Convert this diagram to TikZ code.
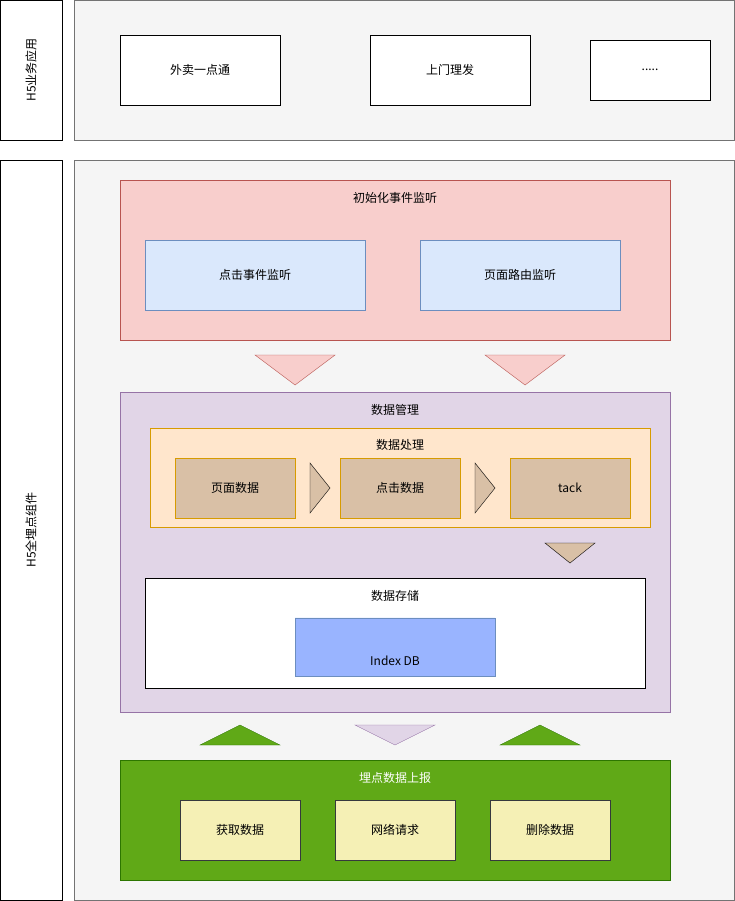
\documentclass[tikz,border=0pt]{standalone}
\usepackage{fontspec}
\setmainfont{Noto Sans CJK SC}
\usetikzlibrary{shapes.geometric}
\definecolor{cont}{HTML}{F5F5F5}
\definecolor{rf}{HTML}{F8CECC}\definecolor{rs}{HTML}{B85450}
\definecolor{bf}{HTML}{DAE8FC}\definecolor{bs}{HTML}{6C8EBF}
\definecolor{pf}{HTML}{E1D5E7}\definecolor{ps}{HTML}{9673A6}
\definecolor{of}{HTML}{FFE6CC}\definecolor{os}{HTML}{D79B00}
\definecolor{tf}{HTML}{D9C0A6}
\definecolor{gf}{HTML}{60A917}\definecolor{gs}{HTML}{2D7600}
\definecolor{yf}{HTML}{F5F0B5}\definecolor{ys}{HTML}{36393D}
\definecolor{cyl}{HTML}{99B4FF}
\tikzset{box/.style={draw,font=\fontsize{12}{14}\selectfont,inner sep=0},
  lbl/.style={font=\fontsize{12}{14}\selectfont}}
\begin{document}
\begin{tikzpicture}[x=1pt,y=-1pt]
\useasboundingbox (0,0) rectangle (735,901);
% top
\draw[draw=black,fill=white] (0.5,0.5) rectangle (62,140);
\node[lbl,rotate=90] (l1) at (31,70) {H5业务应用};
\draw[draw=gray!90!black,fill=cont] (74,0.5) rectangle (734.5,140);
\node[box,fill=white,minimum width=160,minimum height=70] (a1) at (200,70) {外卖一点通};
\node[box,fill=white,minimum width=160,minimum height=70] (a2) at (450,70) {上门理发};
\node[box,fill=white,minimum width=120,minimum height=60] (a3) at (650,70) {.....};
% bottom
\draw[draw=black,fill=white] (0.5,160) rectangle (62,900);
\node[lbl,rotate=90] (l2) at (31,530) {H5全埋点组件};
\draw[draw=gray!90!black,fill=cont] (74,160) rectangle (734.5,900);
% init
\draw[draw=rs,fill=rf] (120,180) rectangle (670,340);
\node[lbl] (t1) at (395,198) {初始化事件监听};
\node[box,draw=bs,fill=bf,minimum width=220,minimum height=70] (b1) at (255,275) {点击事件监听};
\node[box,draw=bs,fill=bf,minimum width=200,minimum height=70] (b2) at (520,275) {页面路由监听};
\draw[draw=rs,fill=rf] (255,355) -- (335,355) -- (295,385) -- cycle;
\draw[draw=rs,fill=rf] (485,355) -- (565,355) -- (525,385) -- cycle;
% manage
\draw[draw=ps,fill=pf] (120,392) rectangle (670,712);
\node[lbl] (t2) at (395,410) {数据管理};
\draw[draw=os,fill=of] (150,428) rectangle (650,527);
\node[lbl] (t3) at (400,445) {数据处理};
\node[box,draw=os,fill=tf,minimum width=120,minimum height=60] (c1) at (235,488) {页面数据};
\node[box,draw=os,fill=tf,minimum width=120,minimum height=60] (c2) at (400,488) {点击数据};
\node[box,draw=os,fill=tf,minimum width=120,minimum height=60] (c3) at (570,488) {tack};
\draw[fill=tf] (310,463) -- (330,488) -- (310,513) -- cycle;
\draw[fill=tf] (475,463) -- (495,488) -- (475,513) -- cycle;
\draw[fill=tf] (545,543) -- (595,543) -- (570,563) -- cycle;
\draw[fill=white] (145,578) rectangle (645,688);
\node[lbl] (t4) at (395,596) {数据存储};
\node[cylinder,shape border rotate=90,draw=bs,fill=cyl,minimum width=200,minimum height=58,aspect=2.2,inner sep=0,lbl] (db) at (395,647) {};
\node[lbl] at (395,661) {Index DB};
% triangles
\draw[draw=gs,fill=gf] (200,745) -- (280,745) -- (240,725) -- cycle;
\draw[draw=ps,fill=pf] (355,725) -- (435,725) -- (395,745) -- cycle;
\draw[draw=gs,fill=gf] (500,745) -- (580,745) -- (540,725) -- cycle;
% report
\draw[draw=gs,fill=gf] (120,760) rectangle (670,880);
\node[lbl,text=white] (t5) at (395,778) {埋点数据上报};
\node[box,draw=ys,fill=yf,minimum width=120,minimum height=60] (d1) at (240,830) {获取数据};
\node[box,draw=ys,fill=yf,minimum width=120,minimum height=60] (d2) at (395,830) {网络请求};
\node[box,draw=ys,fill=yf,minimum width=120,minimum height=60] (d3) at (550,830) {删除数据};
\end{tikzpicture}
\end{document}
